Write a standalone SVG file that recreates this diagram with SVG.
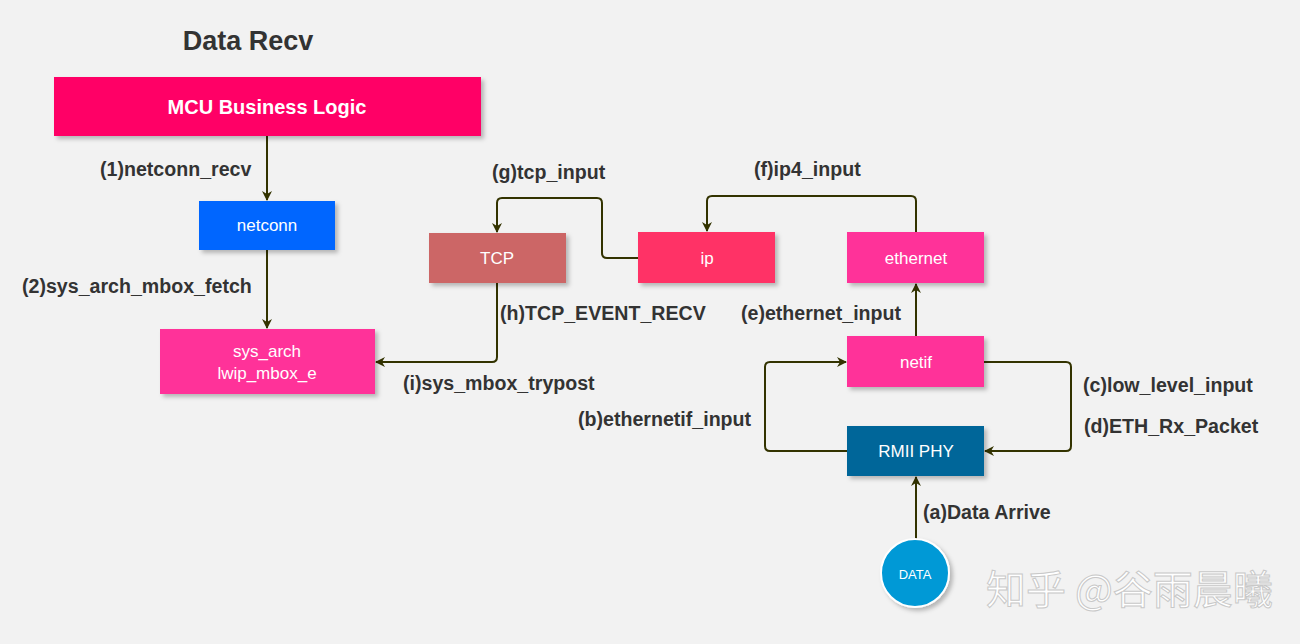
<svg xmlns="http://www.w3.org/2000/svg" width="1300" height="644" viewBox="0 0 1300 644">
<style>
.box{filter:url(#sh)}
.nt{font-family:"Liberation Sans",Arial,sans-serif;font-size:17px;fill:#fff;text-anchor:middle;dominant-baseline:central}
.lb{font-family:"Liberation Sans",Arial,sans-serif;font-size:19.6px;font-weight:bold;fill:#333}
.c{fill:none;stroke:#333300;stroke-width:2;marker-end:url(#ar)}
</style>
<defs>
<filter id="sh" x="-10%" y="-10%" width="130%" height="140%"><feDropShadow dx="3" dy="3" stdDeviation="2" flood-color="#000" flood-opacity="0.25"/></filter>
<marker id="ar" viewBox="0 0 10 10" refX="9" refY="5" markerWidth="5" markerHeight="5" orient="auto"><path d="M0,0L10,5L0,10L3,5Z" fill="#333300"/></marker>
</defs>
<rect width="1300" height="644" fill="#f2f2f2"/>
<text x="248" y="50" font-family="Liberation Sans,Arial,sans-serif" font-size="27" font-weight="bold" fill="#333" text-anchor="middle">Data Recv</text>
<g id="connectors">
<path class="c" d="M267,136V200"/>
<path class="c" d="M267,250V328"/>
<path class="c" d="M497,283V357q0,5-5,5H376"/>
<path class="c" d="M638,258H607q-5,0-5-5V203q0-5-5-5H502q-5,0-5,5V232"/>
<path class="c" d="M916,232V201q0-5-5-5H712q-5,0-5,5V231"/>
<path class="c" d="M916,336V284"/>
<path class="c" d="M847,451H770q-5,0-5-5V367q0-5,5-5H846"/>
<path class="c" d="M984,362H1066q5,0,5,5V446q0,5-5,5H985"/>
<path class="c" d="M916,539V477"/>
</g>
<g id="mcu"><rect class="box" x="54" y="77" width="427" height="59" fill="#ff0066"/><text class="nt" x="267" y="107" style="font-weight:bold;font-size:20px">MCU Business Logic</text></g>
<g id="netconn"><rect class="box" x="199" y="201" width="136" height="49" fill="#0066ff"/><text class="nt" x="267" y="225">netconn</text></g>
<g id="sys_arch"><rect class="box" x="160" y="329" width="215" height="65" fill="#ff3399"/><text class="nt" x="267" y="351">sys_arch</text><text class="nt" x="267" y="373">lwip_mbox_e</text></g>
<g id="tcp"><rect class="box" x="429" y="233" width="137" height="50" fill="#cc6666"/><text class="nt" x="497" y="258">TCP</text></g>
<g id="ip"><rect class="box" x="638" y="232" width="137" height="51" fill="#ff3366"/><text class="nt" x="707" y="258">ip</text></g>
<g id="ethernet"><rect class="box" x="847" y="232" width="137" height="51" fill="#ff3399"/><text class="nt" x="916" y="258">ethernet</text></g>
<g id="netif"><rect class="box" x="847" y="336" width="137" height="51" fill="#ff3399"/><text class="nt" x="916" y="362">netif</text></g>
<g id="rmii"><rect class="box" x="847" y="426" width="137" height="50" fill="#006699"/><text class="nt" x="916" y="451">RMII PHY</text></g>
<g id="data"><circle class="box" cx="915" cy="573" r="34" fill="#0099d6" stroke="#fff" stroke-width="2"/><text class="nt" x="915" y="574" style="font-size:13px">DATA</text></g>
<g id="labels">
<text class="lb" x="100" y="176">(1)netconn_recv</text>
<text class="lb" x="22" y="293">(2)sys_arch_mbox_fetch</text>
<text class="lb" x="492" y="179">(g)tcp_input</text>
<text class="lb" x="754" y="176">(f)ip4_input</text>
<text class="lb" x="500" y="320">(h)TCP_EVENT_RECV</text>
<text class="lb" x="741" y="320">(e)ethernet_input</text>
<text class="lb" x="403" y="390">(i)sys_mbox_trypost</text>
<text class="lb" x="578" y="426">(b)ethernetif_input</text>
<text class="lb" x="1083" y="392">(c)low_level_input</text>
<text class="lb" x="1084" y="433">(d)ETH_Rx_Packet</text>
<text class="lb" x="923" y="519">(a)Data Arrive</text>
</g>
<text x="986" y="604" font-family="Noto Sans CJK SC,sans-serif" font-size="40" fill="#fff" stroke="#c8c8c8" stroke-width="1">知乎 @谷雨晨曦</text>
</svg>
